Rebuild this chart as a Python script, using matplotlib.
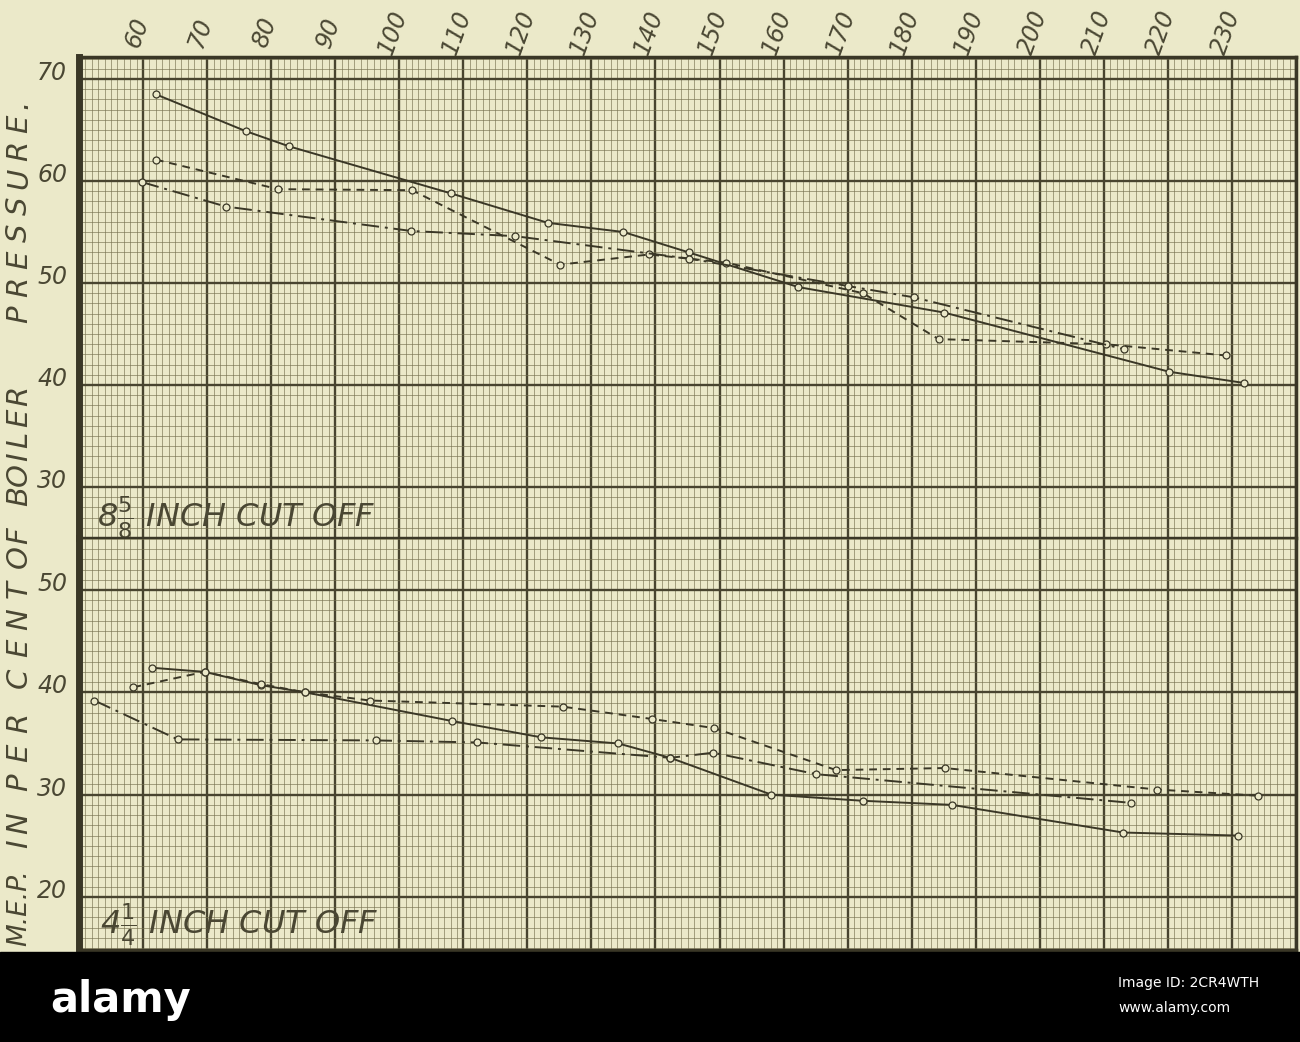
import matplotlib.pyplot as plt
from matplotlib.ticker import MultipleLocator
from matplotlib.patches import Rectangle

# boiler pressure scale along the top
x_ticks = [60, 70, 80, 90, 100, 110, 120, 130, 140, 150, 160, 170, 180, 190, 200, 210, 220, 230]
up_yticks = [70, 60, 50, 40, 30]
low_yticks = [50, 40, 30, 20]

# 8 5/8 inch cut off
up_solid_x = [62, 76, 82.8, 108, 123.2, 135, 145.2, 162.3, 185.1, 220.2, 231.9]
up_solid_y = [68.5, 64.9, 63.4, 58.8, 55.9, 55.0, 53.0, 49.6, 47.1, 41.3, 40.2]
up_dash_x = [62, 81.1, 102, 125.1, 139, 151, 172.4, 184.2, 210.3, 229]
up_dash_y = [62.1, 59.2, 59.1, 51.8, 52.8, 52.0, 49.0, 44.5, 44.0, 42.9]
up_dd_x = [59.8, 72.9, 101.9, 118, 145.2, 170.1, 180.3, 213.2]
up_dd_y = [59.9, 57.5, 55.1, 54.6, 52.4, 49.7, 48.6, 43.5]

# 4 1/4 inch cut off
low_solid_x = [61.4, 69.6, 78.4, 85.3, 108.2, 122.2, 134.2, 142.3, 158.1, 172.4, 186.3, 213.0, 231.0]
low_solid_y = [42.4, 42.0, 40.7, 40.0, 37.2, 35.6, 35.0, 33.6, 30.0, 29.4, 29.0, 26.3, 26.0]
low_dash_x = [58.5, 69.6, 78.4, 85.3, 95.4, 125.5, 139.4, 149.2, 168.2, 185.2, 218.3, 234.0]
low_dash_y = [40.5, 42.0, 40.8, 40.0, 39.2, 38.6, 37.4, 36.5, 32.4, 32.6, 30.5, 29.9]
low_dd_x = [52.4, 65.4, 96.4, 112.2, 142.3, 149.0, 165.1, 214.2]
low_dd_y = [39.2, 35.4, 35.3, 35.1, 33.6, 34.1, 32.0, 29.2]

paper = '#ebe9c9'
ink = '#3a3726'

fig = plt.figure(figsize=(13, 10.42), dpi=100)
fig.patch.set_facecolor(paper)

W, H = 1300, 1042
left = 79 / W
width = 1217 / W
ax1 = fig.add_axes([left, 1 - 538 / H, width, 481 / H])
ax2 = fig.add_axes([left, 1 - 950 / H, width, 412 / H])
ax1.set_ylim(25.0, 72.16)
ax2.set_ylim(14.82, 55.08)


def paper_grid(ax):
    ax.set_facecolor(paper)
    ax.set_xlim(50, 240)
    ax.xaxis.set_major_locator(MultipleLocator(10))
    ax.xaxis.set_minor_locator(MultipleLocator(1))
    ax.yaxis.set_major_locator(MultipleLocator(10))
    ax.yaxis.set_minor_locator(MultipleLocator(1))
    ax.grid(which='minor', color='#76724f', lw=0.55, alpha=0.8)
    ax.grid(which='major', color='#48442f', lw=1.7)
    ax.tick_params(which='both', length=0, labelbottom=False, labelleft=False)
    for s in ax.spines.values():
        s.set_color('#3a3726')
        s.set_linewidth(2.5)
    ax.spines['left'].set_linewidth(5)
    ax.set_axisbelow(True)


def curves(ax, sx, sy, dx, dy, ddx, ddy):
    kw = dict(color=ink, lw=1.4, marker='o', ms=5, mfc=paper, mec=ink, mew=0.9)
    ax.plot(sx, sy, ls='-', **kw)
    ax.plot(dx, dy, ls=(0, (4, 3)), **kw)
    ax.plot(ddx, ddy, ls=(0, (9, 3, 1.5, 3)), **kw)


paper_grid(ax1)
paper_grid(ax2)
ax1.spines['bottom'].set_linewidth(1.6)
ax2.spines['top'].set_linewidth(1.6)

curves(ax1, up_solid_x, up_solid_y, up_dash_x, up_dash_y, up_dd_x, up_dd_y)
curves(ax2, low_solid_x, low_solid_y, low_dash_x, low_dash_y, low_dd_x, low_dd_y)

tfont = dict(family='DejaVu Sans', style='italic', color='#4a4733')

# pressure labels above the grid
for v in x_ticks:
    ax1.text(v - 1.0, 1.05, str(v), transform=ax1.get_xaxis_transform(),
             rotation=70, ha='center', va='center', fontsize=17, **tfont)

# per cent labels
for v in up_yticks:
    ax1.text(-0.022, v + 0.6, str(v), transform=ax1.get_yaxis_transform(),
             ha='center', va='center', fontsize=17, **tfont)
for v in low_yticks:
    ax2.text(-0.022, v + 0.6, str(v), transform=ax2.get_yaxis_transform(),
             ha='center', va='center', fontsize=17, **tfont)

ax1.text(0.015, 0.042, '8$\\frac{5}{8}$ INCH CUT OFF', transform=ax1.transAxes,
         ha='left', va='center', fontsize=23, **tfont)
ax2.text(0.017, 0.061, '4$\\frac{1}{4}$ INCH CUT OFF', transform=ax2.transAxes,
         ha='left', va='center', fontsize=23, **tfont)

# side title, letters spread over each word's span (top px, bottom px)
fig.text(19 / W, 1 - 908 / H, 'M.E.P.', rotation=90, ha='center', va='center',
         fontsize=19, **tfont)
words = ['IN', 'PER', 'CENT', 'OF', 'BOILER', 'PRESSURE.']
word_span = [(810, 852), (708, 797), (575, 692), (525, 567), (385, 507), (98, 328)]
for w, (top, bot) in zip(words, word_span):
    wts = [0.45 if c == '.' else (0.6 if c == 'I' else 1.0) for c in w]
    unit = (bot - top) / sum(wts)
    pos = bot
    for ch, wt in zip(w, wts):
        yy = pos - wt * unit / 2
        pos -= wt * unit
        fig.text(19 / W, 1 - yy / H, ch, rotation=90, ha='center', va='center',
                 fontsize=21, **tfont)

# stock strip at the bottom
fig.patches.append(Rectangle((0, 0), 1, 1 - 952 / H, transform=fig.transFigure,
                             color='black', zorder=5))
fig.text(50 / W, 1 - 1000 / H, 'alamy', color='white', fontsize=30,
         fontweight='bold', ha='left', va='center', zorder=6)
fig.text(1118 / W, 1 - 983 / H, 'Image ID: 2CR4WTH', color='white', fontsize=10,
         ha='left', va='center', zorder=6)
fig.text(1118 / W, 1 - 1008 / H, 'www.alamy.com', color='white', fontsize=10,
         ha='left', va='center', zorder=6)

fig.savefig('out.png', dpi=100, facecolor=paper)
